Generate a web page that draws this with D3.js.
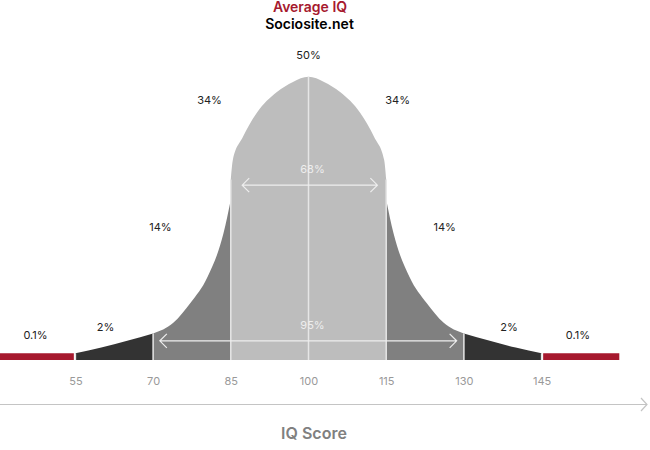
<!DOCTYPE html>
<html>
<head>
<meta charset="utf-8">
<script src="https://cdn.jsdelivr.net/npm/d3@7"></script>
<style>
  html, body { margin: 0; padding: 0; background: #fff; }
  text { font-family: Inter, "Liberation Sans", sans-serif; }
</style>
</head>
<body>
<svg id="chart" width="650" height="450"></svg>
<script>
const tickScores = [55, 70, 85, 100, 115, 130, 145];

/* curve, one pair of arrays per band */
const farLeftScores = [55, 60, 65, 70];
const farLeftHeights = [1.2, 2.2, 3.4, 4.7];
const midLeftScores = [70, 73.9, 77.2, 80.5, 83.6, 85];
const midLeftHeights = [4.7, 6.6, 10.1, 14.7, 22.5, 28.4];
const centerScores = [85, 85.4, 87.3, 90, 93.9, 97, 100, 103, 106.1, 110, 112.7, 114.6, 115];
const centerHeights = [32, 35.5, 39.5, 43.8, 47.5, 49.3, 50.2, 49.3, 47.5, 43.8, 39.5, 35.5, 32];
const midRightScores = [115, 116.4, 119.5, 122.8, 126.1, 130];
const midRightHeights = [28.4, 22.5, 14.7, 10.1, 6.6, 4.7];
const farRightScores = [130, 135, 140, 145];
const farRightHeights = [4.7, 3.4, 2.2, 1.2];
const redLeftScores = [40.4, 54.7];
const redRightScores = [145.3, 160];
const redHeights = [1.2, 1.2];

const pctLabels = ['0.1%', '2%', '14%', '34%', '50%', '34%', '14%', '2%', '0.1%'];
const pctScores = [47.3, 60.8, 71.4, 80.9, 100, 117.2, 126.3, 138.7, 152];
const pctHeights = [3.7, 5.1, 22.8, 45.4, 53.3, 45.4, 22.8, 5.1, 3.7];

const x = d3.scaleLinear().domain([100, 145]).range([308.5, 541.6]);
const y = d3.scaleLinear().domain([0, 50]).range([360, 78]);

const svg = d3.select('#chart');

const area = d3.area()
  .x((d) => x(d[0]))
  .y0(y(0))
  .y1((d) => y(d[1]))
  .curve(d3.curveMonotoneX);

const bands = [
  { scores: redLeftScores, heights: redHeights, colour: '#a6192e' },
  { scores: redRightScores, heights: redHeights, colour: '#a6192e' },
  { scores: farLeftScores, heights: farLeftHeights, colour: '#333333' },
  { scores: farRightScores, heights: farRightHeights, colour: '#333333' },
  { scores: midLeftScores, heights: midLeftHeights, colour: '#808080' },
  { scores: midRightScores, heights: midRightHeights, colour: '#808080' },
  { scores: centerScores, heights: centerHeights, colour: '#bdbdbd' },
];

svg.selectAll('path.band')
  .data(bands)
  .enter().append('path')
  .attr('class', 'band')
  .attr('fill', (d) => d.colour)
  .attr('d', (d) => area(d3.zip(d.scores, d.heights)));

/* white dividers between the bands */
const dividerHeights = [1.2, 4.7, 32, 50.2, 32, 4.7, 1.2];
svg.selectAll('line.divider')
  .data(tickScores)
  .enter().append('line')
  .attr('class', 'divider')
  .attr('x1', (d) => x(d))
  .attr('x2', (d) => x(d))
  .attr('y1', (d, i) => y(dividerHeights[i]))
  .attr('y2', y(0))
  .attr('stroke', '#e6e6e6')
  .attr('stroke-width', 1.5);

/* range arrows */
function rangeArrow(from, to, height, label) {
  const x1 = x(from), x2 = x(to), yy = y(height);
  svg.append('path')
    .attr('fill', 'none')
    .attr('stroke', '#eeeeee')
    .attr('stroke-width', 1.2)
    .attr('d', `M${x1},${yy}H${x2}M${x1 + 7},${yy - 7}L${x1},${yy}L${x1 + 7},${yy + 7}M${x2 - 7},${yy - 7}L${x2},${yy}L${x2 - 7},${yy + 7}`);
  svg.append('text')
    .attr('x', x(100) + 4)
    .attr('y', yy - 12)
    .attr('text-anchor', 'middle')
    .attr('font-size', 11)
    .attr('fill', '#eeeeee')
    .text(label);
}
rangeArrow(87.2, 113.3, 31, '68%');
rangeArrow(71.3, 128.6, 3.4, '95%');

/* percentage labels */
svg.selectAll('text.pct')
  .data(pctLabels)
  .enter().append('text')
  .attr('class', 'pct')
  .attr('x', (d, i) => x(pctScores[i]))
  .attr('y', (d, i) => y(pctHeights[i]))
  .attr('text-anchor', 'middle')
  .attr('font-size', 11)
  .attr('fill', '#222')
  .text((d) => d);

/* score axis */
const axis = svg.append('g')
  .attr('transform', `translate(0,${y(0)})`)
  .call(d3.axisBottom(x).tickValues(tickScores).tickSize(0).tickPadding(17));
axis.select('.domain').remove();
axis.selectAll('text')
  .attr('font-family', 'Inter, "Liberation Sans", sans-serif')
  .attr('font-size', 11)
  .attr('fill', '#999');

svg.append('path')
  .attr('fill', 'none')
  .attr('stroke', '#c4c4c4')
  .attr('stroke-width', 1.2)
  .attr('d', 'M0,404.5H647M641,398L647,404.5L641,411');

svg.append('text')
  .attr('x', 314).attr('y', 439)
  .attr('text-anchor', 'middle')
  .attr('font-size', 16).attr('font-weight', 600)
  .attr('fill', '#808080')
  .text('IQ Score');

svg.append('text')
  .attr('x', 310).attr('y', 12)
  .attr('text-anchor', 'middle')
  .attr('font-size', 14).attr('font-weight', 600)
  .attr('fill', '#a6192e')
  .text('Average IQ');

svg.append('text')
  .attr('x', 309.5).attr('y', 29)
  .attr('text-anchor', 'middle')
  .attr('font-size', 14).attr('font-weight', 600)
  .attr('fill', '#000')
  .text('Sociosite.net');
</script>
</body>
</html>
